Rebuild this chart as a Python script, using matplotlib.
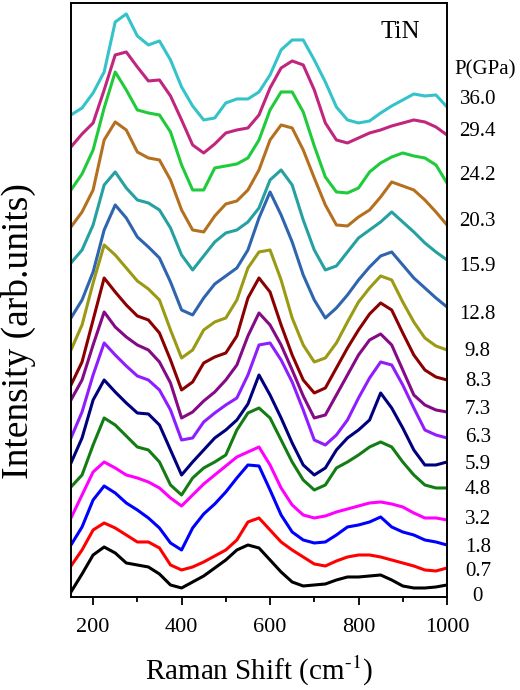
import matplotlib
matplotlib.use("Agg")
import matplotlib.pyplot as plt
import matplotlib.transforms as mtransforms
from matplotlib.ticker import MultipleLocator

plt.rcParams['font.family'] = ['Liberation Serif', 'DejaVu Serif']
plt.rcParams['mathtext.fontset'] = 'stix'

# Raman shift grid (cm-1)
shift = [150, 175, 200, 225, 250, 275, 300, 325, 350, 375, 400, 425, 450, 475,
         500, 525, 550, 575, 600, 625, 650, 675, 700, 725, 750, 775, 800, 825,
         850, 875, 900, 925, 950, 975, 1000]

pressures = ['0', '0.7', '1.8', '3.2', '4.8', '5.9', '6.3', '7.3', '8.3', '9.8',
             '12.8', '15.9', '20.3', '24.2', '29.4', '36.0']

# stacked intensities (arb. units)
p00 = [8, 26, 45, 53, 47, 37, 35, 33, 26, 15, 12, 18, 24, 32, 40, 50, 55, 52,
       40, 28, 18, 14, 15, 16, 20, 23, 23, 24, 25, 20, 14, 12, 12, 13, 15]
p07 = [34, 50, 70, 77, 72, 65, 58, 58, 52, 35, 30, 33, 38, 44, 50, 60, 78, 82,
       70, 58, 50, 43, 36, 34, 39, 43, 45, 45, 43, 40, 37, 34, 30, 29, 32]
p18 = [55, 73, 100, 114, 107, 97, 90, 82, 72, 57, 50, 72, 86, 96, 108, 122, 135, 134,
       110, 85, 68, 60, 57, 58, 65, 73, 75, 78, 83, 73, 68, 65, 60, 58, 55]
p32 = [82, 105, 128, 138, 132, 125, 122, 118, 112, 102, 94, 105, 116, 125, 134, 143, 148, 153,
       135, 112, 95, 85, 82, 84, 88, 91, 94, 97, 98, 96, 93, 87, 82, 82, 80]
p48 = [113, 125, 155, 182, 175, 164, 153, 150, 138, 115, 105, 122, 132, 138, 145, 170, 187, 192,
       182, 160, 138, 120, 110, 115, 132, 138, 145, 153, 158, 153, 138, 125, 115, 112, 112]
p59 = [137, 162, 200, 220, 208, 197, 187, 186, 175, 150, 125, 138, 150, 162, 170, 180, 196, 225,
       205, 182, 157, 135, 125, 132, 150, 162, 170, 180, 207, 192, 172, 150, 135, 135, 138]
p63 = [162, 188, 225, 257, 245, 234, 224, 220, 210, 190, 160, 162, 178, 187, 195, 202, 225, 255,
       257, 240, 218, 190, 160, 155, 165, 180, 202, 222, 238, 235, 215, 192, 170, 165, 162]
p73 = [200, 220, 255, 288, 273, 263, 255, 250, 238, 217, 182, 188, 199, 208, 220, 235, 264, 287,
       275, 255, 230, 204, 182, 185, 205, 225, 245, 260, 266, 255, 230, 205, 195, 190, 188]
p83 = [215, 238, 280, 322, 308, 295, 284, 280, 267, 240, 210, 218, 237, 243, 247, 264, 302, 322,
       308, 275, 245, 220, 207, 212, 232, 252, 270, 286, 297, 290, 267, 245, 230, 223, 220]
p98 = [250, 275, 317, 355, 345, 332, 319, 311, 300, 270, 242, 250, 270, 278, 282, 300, 332, 348,
       350, 320, 282, 255, 238, 242, 257, 278, 298, 312, 324, 320, 298, 278, 262, 254, 250]
p128 = [282, 300, 328, 370, 395, 382, 363, 353, 342, 318, 290, 285, 302, 316, 324, 332, 350, 382,
        408, 385, 358, 325, 300, 282, 292, 305, 320, 333, 344, 348, 335, 322, 312, 302, 293]
p159 = [337, 350, 375, 415, 428, 412, 400, 397, 390, 372, 345, 330, 344, 358, 367, 370, 378, 392,
        420, 430, 415, 380, 350, 330, 334, 348, 362, 370, 378, 388, 378, 368, 357, 348, 340]
p203 = [373, 388, 410, 460, 478, 470, 448, 442, 440, 420, 390, 370, 368, 384, 396, 399, 410, 430,
        460, 475, 472, 450, 422, 395, 375, 374, 383, 390, 403, 418, 414, 410, 400, 388, 375]
p242 = [410, 426, 450, 492, 528, 510, 490, 487, 485, 468, 435, 410, 410, 432, 434, 436, 442, 460,
        490, 508, 508, 488, 454, 423, 408, 407, 412, 428, 437, 443, 447, 444, 442, 435, 417]
p294 = [453, 466, 477, 510, 545, 548, 533, 519, 520, 504, 480, 455, 447, 456, 467, 470, 472, 485,
        512, 532, 539, 535, 510, 477, 460, 457, 462, 467, 470, 474, 477, 480, 478, 473, 465]
p360 = [485, 492, 507, 528, 578, 586, 564, 555, 559, 540, 513, 494, 480, 482, 497, 501, 501, 508,
        525, 550, 560, 560, 540, 518, 493, 480, 477, 479, 487, 494, 500, 506, 504, 505, 493]

spectra = [p00, p07, p18, p32, p48, p59, p63, p73, p83, p98,
           p128, p159, p203, p242, p294, p360]

colors = ['#000000', '#FF0000', '#0000FF', '#FF00FF', '#137D13', '#00007F',
          '#8F1EFF', '#850A85', '#8B0000', '#9A9A14', '#2F64AE', '#26A0A0',
          '#B5701F', '#1FCB3A', '#C0267E', '#33C3C9']

# where the pressure labels sit (data y)
label_y = [3, 28, 52, 80, 110, 135, 162, 190, 218, 248, 285, 333, 378, 424, 468, 500]

fig = plt.figure(figsize=(5.2, 6.9), dpi=100)
ax = fig.add_axes([0.1365, 0.1348, 0.7231, 0.8609])

for ys, c in zip(spectra, colors):
    ax.plot(shift, ys, color=c, lw=2.2)

ax.set_xlim(150, 1000)
ax.set_ylim(3, 597)
ax.xaxis.set_major_locator(MultipleLocator(200))
ax.xaxis.set_minor_locator(MultipleLocator(100))
ax.tick_params(axis='x', which='major', direction='out', length=6, width=1.3,
               labelsize=16, pad=9)
ax.tick_params(axis='x', which='minor', direction='out', length=3.5, width=1.3)
ax.tick_params(axis='y', left=False, labelleft=False)
for sp in ax.spines.values():
    sp.set_linewidth(1.4)

ax.set_xlabel('Raman Shift (cm$^{\\text{-1}}$)', fontsize=21, labelpad=12)
fig.text(0.035, 0.52, 'Intensity (arb.units)', rotation=90, fontsize=27,
         ha='center', va='center')

trans = mtransforms.blended_transform_factory(ax.transAxes, ax.transData)
for p, yl in zip(pressures, label_y):
    ax.text(1.082, yl, p, transform=trans, fontsize=15, ha='center', va='center',
            clip_on=False)
ax.text(1.101, 530, 'P(GPa)', transform=trans, fontsize=15, ha='center',
        va='center', clip_on=False)
ax.text(0.875, 568, 'TiN', transform=trans, fontsize=18, ha='center', va='center')

fig.savefig('out.png', dpi=100)
